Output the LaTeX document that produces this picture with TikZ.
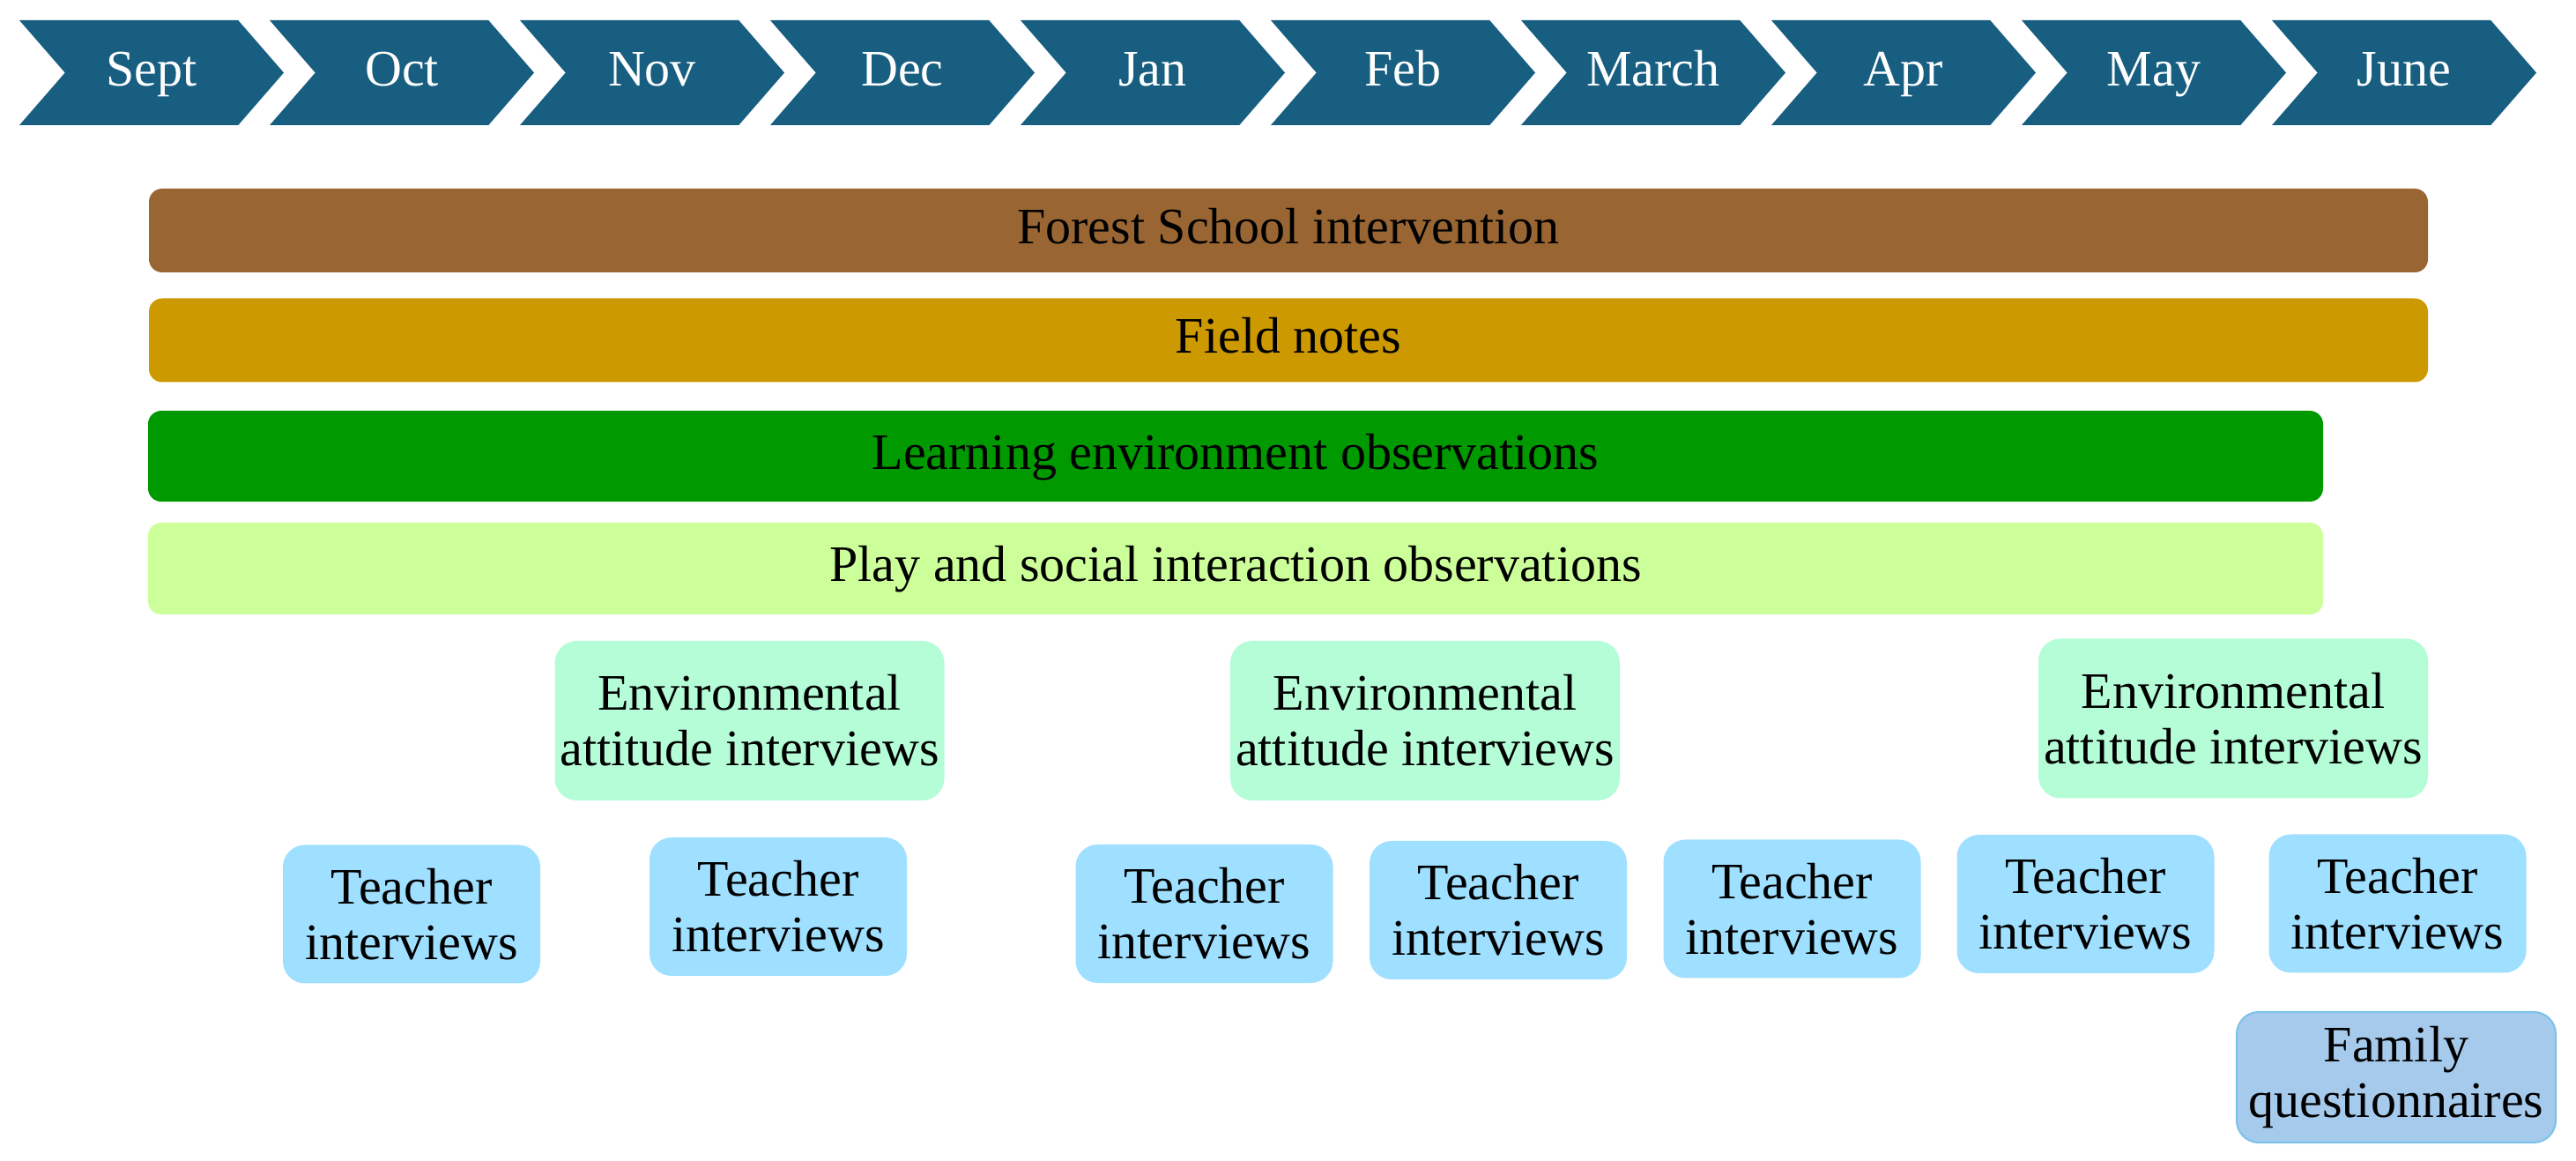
\documentclass[tikz,border=0pt]{standalone}
\usepackage{fontspec}
\setmainfont{Liberation Serif}
\usetikzlibrary{shapes.symbols}

\definecolor{monthblue}{HTML}{175E81}
\definecolor{forestbrown}{HTML}{996633}
\definecolor{fieldgold}{HTML}{CC9900}
\definecolor{learngreen}{HTML}{009900}
\definecolor{playgreen}{HTML}{CCFF99}
\definecolor{envmint}{HTML}{B4FDD7}
\definecolor{teacherblue}{HTML}{9FDFFF}
\definecolor{familyblue}{HTML}{A6CAEC}
\definecolor{familyedge}{HTML}{7DC3E8}

\begin{document}
\begin{tikzpicture}[node distance=2.84cm,font=\fontsize{16.5}{18}\selectfont,
  month/.style={signal,signal to=east,signal from=west,signal pointer angle=98,
    fill=monthblue,text=white,minimum width=3cm,minimum height=1.19cm,inner sep=0pt,
    text height=1.9ex,text depth=0ex},
  bar/.style={rectangle,rounded corners=0.15cm,inner sep=0pt,minimum height=1cm,
    text height=1.8ex,text depth=0ex},
  envbox/.style={rectangle,rounded corners=0.25cm,align=center,inner sep=0pt,
    fill=envmint,minimum width=4.42cm,minimum height=1.81cm},
  teacherbox/.style={rectangle,rounded corners=0.25cm,align=center,inner sep=0pt,
    fill=teacherblue,minimum width=2.92cm,minimum height=1.57cm}]

  \useasboundingbox (0,0) rectangle (29.23,-13.17);

  % months
  \node[month] (sept) at (1.72,-0.825) {Sept};
  \node[month] (oct) [right of=sept] {Oct};
  \node[month] (nov) [right of=oct] {Nov};
  \node[month] (dec) [right of=nov] {Dec};
  \node[month] (jan) [right of=dec] {Jan};
  \node[month] (feb) [right of=jan] {Feb};
  \node[month] (mar) [right of=feb] {March};
  \node[month] (apr) [right of=mar] {Apr};
  \node[month] (may) [right of=apr] {May};
  \node[month] (jun) [right of=may] {June};

  % whole-year bars
  \node[bar,fill=forestbrown,minimum width=25.86cm,minimum height=0.95cm] (forest) at (14.62,-2.615) {Forest School intervention};
  \node[bar,fill=fieldgold,minimum width=25.86cm,minimum height=0.95cm] (field) at (14.62,-3.86) {Field notes};
  \node[bar,fill=learngreen,minimum width=24.68cm,minimum height=1.03cm] (learn) at (14.02,-5.175) {Learning environment observations};
  \node[bar,fill=playgreen,minimum width=24.68cm,minimum height=1.04cm] (play) at (14.02,-6.45) {Play and social interaction observations};

  % interviews
  \node[envbox] (env1) at (8.505,-8.175) {Environmental\\attitude interviews};
  \node[envbox] (env2) at (16.17,-8.175) {Environmental\\attitude interviews};
  \node[envbox] (env3) at (25.34,-8.15) {Environmental\\attitude interviews};

  \node[teacherbox] (t1) at (4.67,-10.37) {Teacher\\interviews};
  \node[teacherbox] (t2) at (8.83,-10.285) {Teacher\\interviews};
  \node[teacherbox] (t3) at (13.665,-10.365) {Teacher\\interviews};
  \node[teacherbox] (t4) at (17.0,-10.325) {Teacher\\interviews};
  \node[teacherbox] (t5) at (20.335,-10.31) {Teacher\\interviews};
  \node[teacherbox] (t6) at (23.665,-10.255) {Teacher\\interviews};
  \node[teacherbox] (t7) at (27.205,-10.25) {Teacher\\interviews};

  \node[rectangle,rounded corners=0.25cm,align=center,inner sep=0pt,fill=familyblue,
    draw=familyedge,line width=0.6pt,minimum width=3.62cm,minimum height=1.48cm]
    (family) at (27.19,-12.22) {Family\\questionnaires};
\end{tikzpicture}
\end{document}
